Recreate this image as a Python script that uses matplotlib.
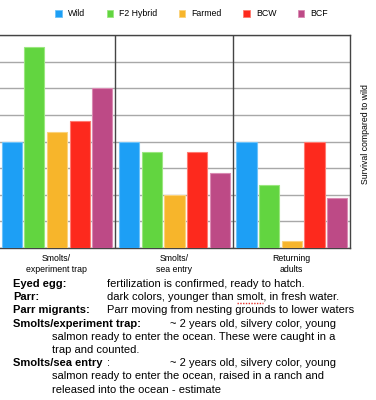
import numpy as np
import matplotlib.pyplot as plt
from matplotlib.patches import Patch
from matplotlib.lines import Line2D

plt.rcParams['font.family'] = ['Liberation Sans', 'DejaVu Sans']

# data
stages = ['Smolts/\nexperiment trap', 'Smolts/\nsea entry', 'Returning\nadults']
series = ['Wild', 'F2 Hybrid', 'Farmed', 'BCW', 'BCF']
wild = [1.0, 1.0, 1.0]
f2_hybrid = [1.89, 0.90, 0.59]
farmed = [1.09, 0.50, 0.07]
bcw = [1.19, 0.90, 1.0]
bcf = [1.50, 0.70, 0.47]
colors = ['#1d9ff5', '#62d540', '#f7b52b', '#fd291d', '#bd4a86']
edges = ['#6cc3fa', '#9ae77f', '#fbd27a', '#ff7a70', '#d98ab2']

notes = [
    ('Eyed egg:', 'fertilization is confirmed, ready to hatch.'),
    ('Parr:', 'dark colors, younger than smolt, in fresh water.'),
    ('Parr migrants:', 'Parr moving from nesting grounds to lower waters'),
]

FS = 8.0
LH = 13.2    # line height of the notes, px
Y0 = 287.0   # baseline of first note, px

fig = plt.figure(figsize=(3.76, 4.0), dpi=100)
ax = fig.add_axes([-0.006, 0.38, 0.937, 0.5325])

x = np.arange(len(stages)) + 0.5
pitch = 0.193
width = 0.172
for i, (vals, c, e) in enumerate(zip([wild, f2_hybrid, farmed, bcw, bcf], colors, edges)):
    ax.bar(x + (i - 2) * pitch + 0.005, vals, width, color=c, edgecolor=e,
           linewidth=0.8, zorder=3)

ax.set_xlim(0, 3)
ax.set_ylim(0, 2.0)
ax.set_yticks(np.arange(0, 2.01, 0.25))
ax.set_yticklabels([])
ax.tick_params(axis='y', length=0)
ax.grid(axis='y', color='#a8a8a8', linewidth=1.0, zorder=0)
for sep in [1, 2]:
    ax.axvline(sep, color='#444444', linewidth=1.0, zorder=4)
ax.set_xticks(x)
ax.set_xticklabels(stages, fontsize=6.3, linespacing=1.35)
ax.tick_params(axis='x', length=0, pad=4)
ax.spines['left'].set_visible(False)
for s in ['top', 'right', 'bottom']:
    ax.spines[s].set_color('#444444')
    ax.spines[s].set_linewidth(1.0)

handles = [Patch(facecolor=c, edgecolor=e, linewidth=0.6) for c, e in zip(colors, edges)]
fig.legend(handles, series, loc='center', bbox_to_anchor=(0.51, 0.965), ncol=5,
           frameon=False, fontsize=6.3, handlelength=0.75, handleheight=0.75,
           handletextpad=0.7, columnspacing=2.45)

fig.text(0.971, 0.665, 'Survival compared to wild', rotation=90, fontsize=6.3,
         ha='center', va='center')


def line(xp, row, s, bold=False):
    return fig.text(xp / 376, 1 - (Y0 + row * LH) / 400, s, fontsize=FS,
                    va='baseline', fontweight='bold' if bold else 'normal')


# notes under the chart
for row, (head, body) in enumerate(notes):
    line(13, row, head, bold=True)
    line(107, row, body)

line(13, 3, 'Smolts/experiment trap:', bold=True)
line(170, 3, '~ 2 years old, silvery color, young')
line(52, 4, 'salmon ready to enter the ocean. These were caught in a')
line(52, 5, 'trap and counted.')

line(13, 6, 'Smolts/sea entry', bold=True)
line(107, 6, ':')
line(170, 6, '~ 2 years old, silvery color, young')
line(52, 7, 'salmon ready to enter the ocean, raised in a ranch and')
line(52, 8, 'released into the ocean - estimate')

# spell-check squiggle under "smolt"
r = fig.canvas.get_renderer()
pre = line(107, 1, 'dark colors, younger than smolt')
word = line(107, 1, 'smolt')
x1 = pre.get_window_extent(r).x1
x0 = x1 - word.get_window_extent(r).width
pre.set_visible(False)
word.set_visible(False)
yu = 1 - (Y0 + LH + 2.3) / 400
fig.add_artist(Line2D([x0 / 376, x1 / 376], [yu, yu], color='#e8302a',
                      linewidth=1.0, linestyle=(0, (1, 1)), transform=fig.transFigure))

fig.savefig('out.png', dpi=100)
